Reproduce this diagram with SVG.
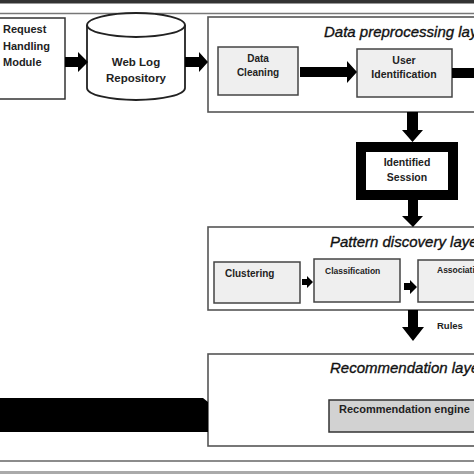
<svg xmlns="http://www.w3.org/2000/svg" width="474" height="474" viewBox="0 0 474 474">
<style>
.lab{font-family:"Liberation Sans",Arial,sans-serif;font-weight:bold;fill:#222}
.ttl{font-family:"Liberation Sans",Arial,sans-serif;font-style:italic;fill:#111;stroke:#111;stroke-width:0.35;font-size:15px}
.layer{fill:#fff;stroke:#555;stroke-width:1.6}
.inner{fill:#efefef;stroke:#444;stroke-width:1.5}
.arr{fill:#000}
</style>
<rect x="0" y="0" width="474" height="474" fill="#fff"/>
<rect x="0" y="0" width="474" height="3.5" fill="#333"/>
<line x1="0" y1="13.5" x2="474" y2="13.5" stroke="#777" stroke-width="1.5"/>
<line x1="0" y1="461" x2="474" y2="461" stroke="#666" stroke-width="1.5"/>
<rect x="0" y="471" width="474" height="3" fill="#aaa"/>

<g id="request-handling">
<rect x="-2" y="18" width="67" height="81" fill="#fff" stroke="#333" stroke-width="1.5"/>
<text class="lab" font-size="11" x="3" y="33">Request</text>
<text class="lab" font-size="11" x="3" y="50">Handling</text>
<text class="lab" font-size="11" x="3" y="66">Module</text>
</g>

<g id="web-log-repository">
<path d="M87,25 L87,88 A49,12 0 0 0 185,88 L185,25" fill="#fff" stroke="#222" stroke-width="1.8"/>
<ellipse cx="136" cy="25" rx="49" ry="12" fill="#fff" stroke="#222" stroke-width="1.8"/>
<text class="lab" font-size="11.5" x="136" y="66" text-anchor="middle">Web Log</text>
<text class="lab" font-size="11.5" x="136" y="82" text-anchor="middle">Repository</text>
</g>

<g id="data-preprocessing-layer">
<rect class="layer" x="208" y="17" width="280" height="95"/>
<text class="ttl" x="324" y="37">Data preprocessing layer</text>
</g>
<g id="data-cleaning">
<rect class="inner" x="218" y="47" width="80" height="48"/>
<text class="lab" font-size="10" x="258" y="62" text-anchor="middle">Data</text>
<text class="lab" font-size="10" x="258" y="76" text-anchor="middle">Cleaning</text>
</g>
<g id="user-identification">
<rect class="inner" x="357" y="49" width="95" height="48"/>
<text class="lab" font-size="10.5" x="404" y="64" text-anchor="middle">User</text>
<text class="lab" font-size="10.5" x="404" y="78" text-anchor="middle">Identification</text>
</g>

<g id="identified-session">
<rect x="361" y="147" width="92" height="48" fill="#fff" stroke="#000" stroke-width="10"/>
<text class="lab" font-size="10.5" x="407" y="166" text-anchor="middle">Identified</text>
<text class="lab" font-size="10.5" x="407" y="181" text-anchor="middle">Session</text>
</g>

<g id="pattern-discovery-layer">
<rect class="layer" x="208" y="227" width="280" height="83"/>
<text class="ttl" x="330" y="247" font-size="15.5">Pattern discovery layer</text>
</g>
<g id="clustering">
<rect class="inner" x="214" y="262" width="86" height="41"/>
<text class="lab" font-size="10" x="225" y="277">Clustering</text>
</g>
<g id="classification">
<rect class="inner" x="314" y="259" width="86" height="43"/>
<text class="lab" font-size="8.5" x="325" y="274">Classification</text>
</g>
<g id="association">
<rect class="inner" x="418" y="260" width="70" height="42"/>
<text class="lab" font-size="8.5" x="437" y="273">Association</text>
</g>

<g id="recommendation-layer">
<rect class="layer" x="208" y="354" width="280" height="92"/>
<text class="ttl" x="330" y="373">Recommendation layer</text>
</g>
<g id="recommendation-engine">
<rect x="329" y="400" width="159" height="32" fill="#d2d2d2" stroke="#333" stroke-width="1.5"/>
<text class="lab" font-size="11" x="339" y="413">Recommendation engine</text>
</g>

<g id="connectors">
<polygon class="arr" points="65,57 78,57 78,52 88,62 78,72 78,67 65,67"/>
<polygon class="arr" points="185,57 199,57 199,52 208,62 199,72 199,67 185,67"/>
<polygon class="arr" points="300,67 347,67 347,61 357,72 347,83 347,77 300,77"/>
<rect class="arr" x="452" y="68" width="22" height="10"/>
<polygon class="arr" points="407,112 418,112 418,130 423,130 412.5,142 402,130 407,130"/>
<polygon class="arr" points="408,200 418,200 418,216 423,216 413,227 402,216 408,216"/>
<polygon class="arr" points="302,279 307,279 307,276 313,282 307,288 307,285 302,285"/>
<polygon class="arr" points="404,283 410,283 410,280 417,287 410,294 410,290 404,290"/>
<polygon class="arr" points="408,310 418,310 418,327 424,327 413,341 402,327 408,327"/>
<text class="lab" font-size="9.5" x="437" y="329">Rules</text>
<polygon class="arr" points="0,398 203,398 208,402 208,432 0,432"/>
</g>
</svg>
